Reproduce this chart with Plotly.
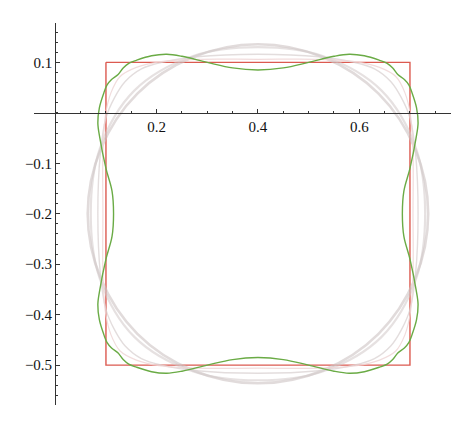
# -*- coding: utf-8 -*-
"""Square and its Fourier approximations, Mathematica-style axes."""
import plotly.graph_objects as go

# red square
SQ_X = [0.1, 0.7, 0.7, 0.1, 0.1]
SQ_Y = [0.1, 0.1, -0.5, -0.5, 0.1]

# green (highest order) approximation
GREEN_X = [0.400, 0.450, 0.500, 0.550, 0.580, 0.610, 0.640, 0.655, 0.666, 0.676,
           0.689, 0.698, 0.704, 0.713, 0.716, 0.712, 0.700, 0.688, 0.685,
           0.688, 0.700, 0.712, 0.716, 0.713, 0.704, 0.698, 0.689, 0.676,
           0.666, 0.655, 0.640, 0.610, 0.580, 0.550, 0.500, 0.450, 0.400,
           0.350, 0.300, 0.250, 0.220, 0.190, 0.160, 0.145, 0.134, 0.124,
           0.111, 0.102, 0.096, 0.087, 0.084, 0.088, 0.100, 0.112, 0.115,
           0.112, 0.100, 0.088, 0.084, 0.087, 0.096, 0.102, 0.111, 0.124,
           0.134, 0.145, 0.160, 0.190, 0.220, 0.250, 0.300, 0.350, 0.400]
GREEN_Y = [0.085, 0.089, 0.100, 0.112, 0.116, 0.113, 0.104, 0.098, 0.089, 0.076,
           0.066, 0.055, 0.040, 0.010, -0.020, -0.050, -0.110, -0.155, -0.200,
           -0.245, -0.290, -0.350, -0.380, -0.410, -0.440, -0.455, -0.466, -0.476,
           -0.489, -0.498, -0.504, -0.513, -0.516, -0.512, -0.500, -0.489, -0.485,
           -0.489, -0.500, -0.512, -0.516, -0.513, -0.504, -0.498, -0.489, -0.476,
           -0.466, -0.455, -0.440, -0.410, -0.380, -0.350, -0.290, -0.245, -0.200,
           -0.155, -0.110, -0.050, -0.020, 0.010, 0.040, 0.055, 0.066, 0.076,
           0.089, 0.098, 0.104, 0.113, 0.116, 0.112, 0.100, 0.089, 0.085]

# low order approximations (grey)
G1_X = [0.736, 0.710, 0.638, 0.529, 0.400, 0.271, 0.162, 0.090,
        0.064, 0.090, 0.162, 0.271, 0.400, 0.529, 0.638, 0.710, 0.736]
G1_Y = [-0.200, -0.071, 0.038, 0.110, 0.136, 0.110, 0.038, -0.071,
        -0.200, -0.329, -0.438, -0.510, -0.536, -0.510, -0.438, -0.329, -0.200]

G2_X = [0.730, 0.712, 0.644, 0.529, 0.400, 0.271, 0.156, 0.088,
        0.070, 0.088, 0.156, 0.271, 0.400, 0.529, 0.644, 0.712, 0.730]
G2_Y = [-0.200, -0.071, 0.044, 0.112, 0.130, 0.112, 0.044, -0.071,
        -0.200, -0.329, -0.444, -0.512, -0.530, -0.512, -0.444, -0.329, -0.200]

G3_X = [0.400, 0.520, 0.590, 0.630, 0.662, 0.683, 0.700, 0.711, 0.716,
        0.711, 0.700, 0.683, 0.662, 0.630, 0.590, 0.520, 0.400,
        0.280, 0.210, 0.170, 0.138, 0.117, 0.100, 0.089, 0.084,
        0.089, 0.100, 0.117, 0.138, 0.170, 0.210, 0.280, 0.400]
G3_Y = [0.116, 0.111, 0.100, 0.087, 0.062, 0.030, -0.010, -0.080, -0.200,
        -0.320, -0.390, -0.430, -0.462, -0.487, -0.500, -0.511, -0.516,
        -0.511, -0.500, -0.487, -0.462, -0.430, -0.390, -0.320, -0.200,
        -0.080, -0.010, 0.030, 0.062, 0.087, 0.100, 0.111, 0.116]

G4_X = [0.400, 0.520, 0.595, 0.640, 0.672, 0.690, 0.701, 0.706, 0.706,
        0.706, 0.701, 0.690, 0.672, 0.640, 0.595, 0.520, 0.400,
        0.280, 0.205, 0.160, 0.128, 0.110, 0.099, 0.094, 0.094,
        0.094, 0.099, 0.110, 0.128, 0.160, 0.205, 0.280, 0.400]
G4_Y = [0.106, 0.106, 0.101, 0.090, 0.072, 0.040, -0.005, -0.080, -0.200,
        -0.320, -0.395, -0.440, -0.472, -0.490, -0.501, -0.506, -0.506,
        -0.506, -0.501, -0.490, -0.472, -0.440, -0.395, -0.320, -0.200,
        -0.080, -0.005, 0.040, 0.072, 0.090, 0.101, 0.106, 0.106]

X_TICKS = [0.2, 0.4, 0.6]
X_LABELS = ["0.2", "0.4", "0.6"]
Y_TICKS = [0.1, -0.1, -0.2, -0.3, -0.4, -0.5]
Y_LABELS = ["0.1", "\u22120.1", "\u22120.2", "\u22120.3", "\u22120.4", "\u22120.5"]

X_RANGE = [-0.042, 0.781]
Y_RANGE = [-0.579, 0.178]

AXIS_COLOR = "#333333"
FONT = dict(family="Liberation Serif, Times New Roman, serif", size=15, color="#111")


def curve(xs, ys, color, width):
    return go.Scatter(x=xs, y=ys, mode="lines", showlegend=False, hoverinfo="skip",
                      line=dict(color=color, width=width, shape="spline", smoothing=1.0))


fig = go.Figure()
fig.add_trace(go.Scatter(x=SQ_X, y=SQ_Y, mode="lines", showlegend=False,
                         line=dict(color="#dc5a50", width=1.4)))
fig.add_trace(curve(G1_X, G1_Y, "rgba(205,195,195,0.6)", 2.6))
fig.add_trace(curve(G2_X, G2_Y, "rgba(210,200,200,0.55)", 2.2))
fig.add_trace(curve(G3_X, G3_Y, "rgba(218,210,210,0.75)", 1.4))
fig.add_trace(curve(G4_X, G4_Y, "rgba(238,214,214,0.85)", 1.2))
fig.add_trace(curve(GREEN_X, GREEN_Y, "#6aab45", 1.4))

# axes cross at the origin, ticks point inward like Mathematica
x_pos = -Y_RANGE[0] / (Y_RANGE[1] - Y_RANGE[0])
y_pos = -X_RANGE[0] / (X_RANGE[1] - X_RANGE[0])

# page body has an 8px margin, so the figure is 8px smaller than the window
fig.update_layout(
    width=466, height=420,
    paper_bgcolor="white", plot_bgcolor="white",
    margin=dict(l=26, r=23, t=15, b=23, autoexpand=False),
    font=FONT,
    xaxis=dict(range=X_RANGE, anchor="free", position=x_pos, automargin=False,
               showgrid=False, zeroline=False,
               showline=True, linecolor=AXIS_COLOR, linewidth=1.3,
               ticks="inside", ticklen=4, tickwidth=1, tickcolor=AXIS_COLOR,
               tickvals=X_TICKS, ticktext=X_LABELS,
               minor=dict(ticks="inside", ticklen=2, dtick=0.05, tick0=0,
                          tickcolor=AXIS_COLOR, showgrid=False)),
    yaxis=dict(range=Y_RANGE, anchor="free", position=y_pos, automargin=False,
               showgrid=False, zeroline=False,
               showline=True, linecolor=AXIS_COLOR, linewidth=1.3,
               ticks="inside", ticklen=4, tickwidth=1, tickcolor=AXIS_COLOR,
               tickvals=Y_TICKS, ticktext=Y_LABELS,
               minor=dict(ticks="inside", ticklen=2, dtick=0.02, tick0=0,
                          tickcolor=AXIS_COLOR, showgrid=False)),
)

fig.write_html("out.html")
